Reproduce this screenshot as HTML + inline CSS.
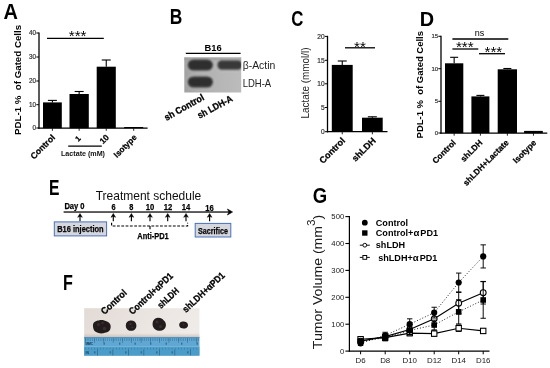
<!DOCTYPE html>
<html><head><meta charset="utf-8"><title>Figure</title>
<style>
html,body{margin:0;padding:0;background:#fff;}
svg{display:block;font-family:'Liberation Sans', 'DejaVu Sans', sans-serif;}
</style></head><body>
<svg width="550" height="368" viewBox="0 0 550 368">
<defs>
<filter id="b1" x="-5%" y="-5%" width="110%" height="110%"><feGaussianBlur stdDeviation="0.5"/></filter>
<filter id="b2" x="-20%" y="-30%" width="140%" height="160%"><feGaussianBlur stdDeviation="1.1"/></filter>
<filter id="b3" x="-30%" y="-30%" width="160%" height="160%"><feGaussianBlur stdDeviation="0.45"/></filter>
<linearGradient id="photobg" x1="0" y1="0" x2="1" y2="0.3"><stop offset="0" stop-color="#e2dad5"/><stop offset="0.6" stop-color="#ebe6e2"/><stop offset="1" stop-color="#efebe8"/></linearGradient>
<linearGradient id="shadow" x1="0" y1="0" x2="0" y2="1"><stop offset="0" stop-color="#c9beb7" stop-opacity="0"/><stop offset="1" stop-color="#bfb3ab" stop-opacity="0.9"/></linearGradient>
<linearGradient id="blotbg" x1="0" y1="0" x2="1" y2="0"><stop offset="0" stop-color="#a2a2a2"/><stop offset="0.5" stop-color="#b4b4b4"/><stop offset="1" stop-color="#bcbcbc"/></linearGradient>
<filter id="b4" x="-30%" y="-50%" width="160%" height="200%"><feGaussianBlur stdDeviation="1.6"/></filter>
<filter id="soft"><feGaussianBlur stdDeviation="0.35"/></filter>
</defs>
<rect width="550" height="368" fill="#fff"/>
<g filter="url(#soft)">
<text transform="translate(3.40 18.90) scale(0.935 1)" font-size="21.37" font-weight="bold">A</text>
<text transform="translate(169.74 24.20) scale(0.819 1)" font-size="21.22" font-weight="bold">B</text>
<text transform="translate(291.31 25.89) scale(0.773 1)" font-size="21.75" font-weight="bold">C</text>
<text transform="translate(419.77 25.50) scale(0.950 1)" font-size="20.93" font-weight="bold">D</text>
<text transform="translate(49.05 195.10) scale(0.739 1)" font-size="21.22" font-weight="bold">E</text>
<text transform="translate(62.92 290.00) scale(0.751 1)" font-size="21.51" font-weight="bold">F</text>
<text transform="translate(312.64 203.49) scale(0.863 1)" font-size="21.47" font-weight="bold">G</text>
<line x1="39.0" y1="32.4" x2="39.0" y2="128.85" stroke="#000" stroke-width="1.3" />
<line x1="38.35" y1="128.2" x2="147.6" y2="128.2" stroke="#000" stroke-width="1.3" />
<line x1="36.3" y1="33" x2="39.0" y2="33" stroke="#000" stroke-width="1" />
<text x="36.1" y="35.268" font-size="6.3" font-weight="normal" text-anchor="end" fill="#333" stroke="#333" stroke-width="0.2">40</text>
<line x1="36.3" y1="57" x2="39.0" y2="57" stroke="#000" stroke-width="1" />
<text x="36.1" y="59.268" font-size="6.3" font-weight="normal" text-anchor="end" fill="#333" stroke="#333" stroke-width="0.2">30</text>
<line x1="36.3" y1="81" x2="39.0" y2="81" stroke="#000" stroke-width="1" />
<text x="36.1" y="83.268" font-size="6.3" font-weight="normal" text-anchor="end" fill="#333" stroke="#333" stroke-width="0.2">20</text>
<line x1="36.3" y1="104.7" x2="39.0" y2="104.7" stroke="#000" stroke-width="1" />
<text x="36.1" y="106.968" font-size="6.3" font-weight="normal" text-anchor="end" fill="#333" stroke="#333" stroke-width="0.2">10</text>
<line x1="36.3" y1="128" x2="39.0" y2="128" stroke="#000" stroke-width="1" />
<text x="36.1" y="130.268" font-size="6.3" font-weight="normal" text-anchor="end" fill="#333" stroke="#333" stroke-width="0.2">0</text>
<rect x="43.0" y="102.4" width="18.799999999999997" height="25.799999999999983" fill="#000" />
<line x1="52.4" y1="128.2" x2="52.4" y2="130.79999999999998" stroke="#000" stroke-width="0.85" />
<line x1="52.4" y1="100.4" x2="52.4" y2="102.4" stroke="#000" stroke-width="1.1" />
<line x1="47.9" y1="100.4" x2="56.9" y2="100.4" stroke="#000" stroke-width="1.1" />
<rect x="69.5" y="94" width="19.299999999999997" height="34.19999999999999" fill="#000" />
<line x1="79.15" y1="128.2" x2="79.15" y2="130.79999999999998" stroke="#000" stroke-width="0.85" />
<line x1="79.15" y1="91.5" x2="79.15" y2="94" stroke="#000" stroke-width="1.1" />
<line x1="74.65" y1="91.5" x2="83.65" y2="91.5" stroke="#000" stroke-width="1.1" />
<rect x="96.7" y="66.7" width="19.099999999999994" height="61.499999999999986" fill="#000" />
<line x1="106.25" y1="128.2" x2="106.25" y2="130.79999999999998" stroke="#000" stroke-width="0.85" />
<line x1="106.25" y1="60" x2="106.25" y2="66.7" stroke="#000" stroke-width="1.1" />
<line x1="101.75" y1="60" x2="110.75" y2="60" stroke="#000" stroke-width="1.1" />
<rect x="124.2" y="127.0" width="18.999999999999986" height="1.1999999999999886" fill="#000" />
<line x1="133.7" y1="128.2" x2="133.7" y2="130.79999999999998" stroke="#000" stroke-width="0.85" />
<text x="21.2" y="134.9" font-size="9.5" font-weight="bold" text-anchor="start" fill="#000" transform="rotate(-90 21.2 134.9)" textLength="110" lengthAdjust="spacingAndGlyphs" >PDL-1 %&#160; of Gated Cells</text>
<line x1="47" y1="38.4" x2="103.8" y2="38.4" stroke="#000" stroke-width="1.3" />
<text x="77.6" y="41.2" font-size="15.2" font-weight="normal" text-anchor="middle" fill="#000" >***</text>
<text x="55.6" y="138.1" font-size="8.6" font-weight="bold" text-anchor="end" fill="#000" transform="rotate(-45 55.6 138.1)" stroke="#000" stroke-width="0.25">Control</text>
<text x="81.3" y="139" font-size="7.6" font-weight="bold" text-anchor="end" fill="#000" transform="rotate(-45 81.3 139)" stroke="#000" stroke-width="0.25">1</text>
<text x="109.5" y="138" font-size="8.4" font-weight="bold" text-anchor="end" fill="#000" transform="rotate(-45 109.5 138)" stroke="#000" stroke-width="0.25">10</text>
<text x="137.3" y="137.9" font-size="8.2" font-weight="bold" text-anchor="end" fill="#000" transform="rotate(-45 137.3 137.9)" stroke="#000" stroke-width="0.25">Isotype</text>
<line x1="68.2" y1="146.2" x2="101.8" y2="146.2" stroke="#000" stroke-width="1.3" />
<text x="83" y="156.4" font-size="7.9" font-weight="bold" text-anchor="middle" fill="#111" textLength="44" lengthAdjust="spacingAndGlyphs" >Lactate (mM)</text>
<rect x="184.3" y="57.4" width="56.9" height="35.1" fill="url(#blotbg)" filter="url(#b1)"/>
<rect x="184.3" y="57.4" width="56.9" height="3" fill="#9a9a9a" opacity="0.5" filter="url(#b1)"/>
<clipPath id="blotclip"><rect x="184.3" y="57.4" width="56.9" height="35.1"/></clipPath>
<g clip-path="url(#blotclip)">
<rect x="186.1" y="58.1" width="28.400000000000006" height="13.999999999999993" rx="6.9999999999999964" fill="#cfcfcf" opacity="0.55" filter="url(#b4)"/>
<rect x="187.6" y="59.6" width="25.400000000000006" height="10.999999999999993" rx="5.4999999999999964" fill="#2e2e2e" filter="url(#b2)"/>
<rect x="215.8" y="58.7" width="28.19999999999999" height="12.599999999999994" rx="6.299999999999997" fill="#cfcfcf" opacity="0.55" filter="url(#b4)"/>
<rect x="217.3" y="60.2" width="25.19999999999999" height="9.599999999999994" rx="4.799999999999997" fill="#383838" filter="url(#b2)"/>
<rect x="186.1" y="74.9" width="28.400000000000006" height="14.199999999999989" rx="7.099999999999994" fill="#cfcfcf" opacity="0.55" filter="url(#b4)"/>
<rect x="187.6" y="76.4" width="25.400000000000006" height="11.199999999999989" rx="5.599999999999994" fill="#2e2e2e" filter="url(#b2)"/>
</g>
<line x1="185.8" y1="53.4" x2="240.6" y2="53.4" stroke="#000" stroke-width="1.1" />
<text x="213.2" y="50.9" font-size="9.4" font-weight="bold" text-anchor="middle" fill="#000" >B16</text>
<text x="242.7" y="69" font-size="10.5" font-weight="normal" text-anchor="start" fill="#222" textLength="32.6" lengthAdjust="spacingAndGlyphs" >β-Actin</text>
<text x="242.7" y="86.5" font-size="10.5" font-weight="normal" text-anchor="start" fill="#222" textLength="28.5" lengthAdjust="spacingAndGlyphs" >LDH-A</text>
<text x="204.8" y="99.3" font-size="9.5" font-weight="bold" text-anchor="end" fill="#000" transform="rotate(-29.5 204.8 99.3)" textLength="44" lengthAdjust="spacingAndGlyphs" stroke="#000" stroke-width="0.3">sh Control</text>
<text x="233.4" y="100.5" font-size="9.5" font-weight="bold" text-anchor="end" fill="#000" transform="rotate(-28.5 233.4 100.5)" textLength="38.5" lengthAdjust="spacingAndGlyphs" stroke="#000" stroke-width="0.3">sh LDH-A</text>
<line x1="327.5" y1="35.8" x2="327.5" y2="132.35" stroke="#000" stroke-width="1.3" />
<line x1="326.85" y1="131.7" x2="387.5" y2="131.7" stroke="#000" stroke-width="1.3" />
<line x1="324.8" y1="36.4" x2="327.5" y2="36.4" stroke="#000" stroke-width="1" />
<text x="324.6" y="38.775999999999996" font-size="6.6" font-weight="normal" text-anchor="end" fill="#333" stroke="#333" stroke-width="0.2">20</text>
<line x1="324.8" y1="60.3" x2="327.5" y2="60.3" stroke="#000" stroke-width="1" />
<text x="324.6" y="62.675999999999995" font-size="6.6" font-weight="normal" text-anchor="end" fill="#333" stroke="#333" stroke-width="0.2">15</text>
<line x1="324.8" y1="83.8" x2="327.5" y2="83.8" stroke="#000" stroke-width="1" />
<text x="324.6" y="86.176" font-size="6.6" font-weight="normal" text-anchor="end" fill="#333" stroke="#333" stroke-width="0.2">10</text>
<line x1="324.8" y1="107.5" x2="327.5" y2="107.5" stroke="#000" stroke-width="1" />
<text x="324.6" y="109.876" font-size="6.6" font-weight="normal" text-anchor="end" fill="#333" stroke="#333" stroke-width="0.2">5</text>
<line x1="324.8" y1="131.7" x2="327.5" y2="131.7" stroke="#000" stroke-width="1" />
<text x="324.6" y="134.076" font-size="6.6" font-weight="normal" text-anchor="end" fill="#333" stroke="#333" stroke-width="0.2">0</text>
<rect x="331.8" y="64.9" width="20.899999999999977" height="66.79999999999998" fill="#000" />
<line x1="342.25" y1="131.7" x2="342.25" y2="134.29999999999998" stroke="#000" stroke-width="0.85" />
<line x1="342.25" y1="61" x2="342.25" y2="64.9" stroke="#000" stroke-width="1.1" />
<line x1="337.75" y1="61" x2="346.75" y2="61" stroke="#000" stroke-width="1.1" />
<rect x="362" y="117.7" width="20.69999999999999" height="13.999999999999986" fill="#000" />
<line x1="372.35" y1="131.7" x2="372.35" y2="134.29999999999998" stroke="#000" stroke-width="0.85" />
<line x1="372.35" y1="116.8" x2="372.35" y2="117.7" stroke="#000" stroke-width="1.1" />
<line x1="367.85" y1="116.8" x2="376.85" y2="116.8" stroke="#000" stroke-width="1.1" />
<text x="308.90000000000003" y="83" font-size="10" font-weight="normal" text-anchor="middle" fill="#222" transform="rotate(-90 308.90000000000003 83)" textLength="71" lengthAdjust="spacingAndGlyphs" >Lactate (mmol/l)</text>
<line x1="345" y1="47.8" x2="375" y2="47.8" stroke="#000" stroke-width="1.3" />
<text x="359.9" y="51.7" font-size="15.2" font-weight="normal" text-anchor="middle" fill="#000" >**</text>
<text x="345.8" y="141.3" font-size="9.1" font-weight="bold" text-anchor="end" fill="#000" transform="rotate(-45 345.8 141.3)" stroke="#000" stroke-width="0.25">Control</text>
<text x="376.3" y="141.3" font-size="9.1" font-weight="bold" text-anchor="end" fill="#000" transform="rotate(-45 376.3 141.3)" stroke="#000" stroke-width="0.25">shLDH</text>
<line x1="441" y1="35.699999999999996" x2="441" y2="133.75" stroke="#000" stroke-width="1.3" />
<line x1="440.35" y1="133.1" x2="547.3" y2="133.1" stroke="#000" stroke-width="1.3" />
<line x1="438.3" y1="36.3" x2="441" y2="36.3" stroke="#000" stroke-width="1" />
<text x="438.1" y="38.459999999999994" font-size="6.0" font-weight="normal" text-anchor="end" fill="#333" stroke="#333" stroke-width="0.2">15</text>
<line x1="438.3" y1="68.7" x2="441" y2="68.7" stroke="#000" stroke-width="1" />
<text x="438.1" y="70.86" font-size="6.0" font-weight="normal" text-anchor="end" fill="#333" stroke="#333" stroke-width="0.2">10</text>
<line x1="438.3" y1="101.3" x2="441" y2="101.3" stroke="#000" stroke-width="1" />
<text x="438.1" y="103.46" font-size="6.0" font-weight="normal" text-anchor="end" fill="#333" stroke="#333" stroke-width="0.2">5</text>
<line x1="438.3" y1="133" x2="441" y2="133" stroke="#000" stroke-width="1" />
<text x="438.1" y="135.16" font-size="6.0" font-weight="normal" text-anchor="end" fill="#333" stroke="#333" stroke-width="0.2">0</text>
<rect x="445" y="63.3" width="18.30000000000001" height="69.8" fill="#000" />
<line x1="454.15" y1="133.1" x2="454.15" y2="135.7" stroke="#000" stroke-width="0.85" />
<line x1="454.15" y1="57.3" x2="454.15" y2="63.3" stroke="#000" stroke-width="1.1" />
<line x1="450.15" y1="57.3" x2="458.15" y2="57.3" stroke="#000" stroke-width="1.1" />
<rect x="471.4" y="96.4" width="18.0" height="36.69999999999999" fill="#000" />
<line x1="480.4" y1="133.1" x2="480.4" y2="135.7" stroke="#000" stroke-width="0.85" />
<line x1="480.4" y1="95.4" x2="480.4" y2="96.4" stroke="#000" stroke-width="1.1" />
<line x1="476.4" y1="95.4" x2="484.4" y2="95.4" stroke="#000" stroke-width="1.1" />
<rect x="497.7" y="69.3" width="19.30000000000001" height="63.8" fill="#000" />
<line x1="507.35" y1="133.1" x2="507.35" y2="135.7" stroke="#000" stroke-width="0.85" />
<line x1="507.35" y1="68.5" x2="507.35" y2="69.3" stroke="#000" stroke-width="1.1" />
<line x1="503.35" y1="68.5" x2="511.35" y2="68.5" stroke="#000" stroke-width="1.1" />
<rect x="524.1" y="130.9" width="18.699999999999932" height="2.1999999999999886" fill="#000" />
<line x1="533.45" y1="133.1" x2="533.45" y2="135.7" stroke="#000" stroke-width="0.85" />
<text x="422.9" y="138.4" font-size="9.3" font-weight="bold" text-anchor="start" fill="#000" transform="rotate(-90 422.9 138.4)" textLength="107.4" lengthAdjust="spacingAndGlyphs" >PDL-1 %&#160; of Gated Cells</text>
<line x1="452.4" y1="39" x2="508.3" y2="39" stroke="#000" stroke-width="1.3" />
<text x="479.6" y="36" font-size="9" font-weight="normal" text-anchor="middle" fill="#000" >ns</text>
<line x1="452.4" y1="49" x2="478.3" y2="49" stroke="#000" stroke-width="1.3" />
<text x="464.8" y="52.2" font-size="15.2" font-weight="normal" text-anchor="middle" fill="#000" >***</text>
<line x1="479" y1="53.7" x2="505" y2="53.7" stroke="#000" stroke-width="1.3" />
<text x="493.4" y="57.2" font-size="15.2" font-weight="normal" text-anchor="middle" fill="#000" >***</text>
<text x="456.5" y="143.3" font-size="8.3" font-weight="bold" text-anchor="end" fill="#000" transform="rotate(-45 456.5 143.3)" stroke="#000" stroke-width="0.25">Control</text>
<text x="483" y="143.3" font-size="8.3" font-weight="bold" text-anchor="end" fill="#000" transform="rotate(-45 483 143.3)" stroke="#000" stroke-width="0.25">shLDH</text>
<text x="509.3" y="143.3" font-size="8.3" font-weight="bold" text-anchor="end" fill="#000" transform="rotate(-45 509.3 143.3)" stroke="#000" stroke-width="0.25">shLDH+Lactate</text>
<text x="536.8" y="143.3" font-size="8.3" font-weight="bold" text-anchor="end" fill="#000" transform="rotate(-45 536.8 143.3)" stroke="#000" stroke-width="0.25">Isotype</text>
<text x="95.7" y="199.5" font-size="13" font-weight="normal" text-anchor="start" fill="#111" textLength="105.6" lengthAdjust="spacingAndGlyphs" >Treatment schedule</text>
<rect x="63.6" y="211.4" width="166" height="1.25" fill="#000" />
<path d="M232.6 212 L227.4 209 L229 212 L227.4 215 Z" fill="#000" stroke="#000" stroke-width="0.6" stroke-linejoin="round"/>
<text x="64.4" y="209.3" font-size="9" font-weight="bold" text-anchor="start" fill="#000" textLength="20.2" lengthAdjust="spacingAndGlyphs" stroke="#000" stroke-width="0.25">Day 0</text>
<text x="113.6" y="210" font-size="9.3" font-weight="bold" text-anchor="middle" fill="#000" textLength="4.1" lengthAdjust="spacingAndGlyphs" stroke="#000" stroke-width="0.25">6</text>
<text x="131.4" y="210" font-size="9.3" font-weight="bold" text-anchor="middle" fill="#000" textLength="4.1" lengthAdjust="spacingAndGlyphs" stroke="#000" stroke-width="0.25">8</text>
<text x="150" y="210" font-size="9.3" font-weight="bold" text-anchor="middle" fill="#000" textLength="8.5" lengthAdjust="spacingAndGlyphs" stroke="#000" stroke-width="0.25">10</text>
<text x="168" y="210" font-size="9.3" font-weight="bold" text-anchor="middle" fill="#000" textLength="8.5" lengthAdjust="spacingAndGlyphs" stroke="#000" stroke-width="0.25">12</text>
<text x="186" y="210" font-size="9.3" font-weight="bold" text-anchor="middle" fill="#000" textLength="8.5" lengthAdjust="spacingAndGlyphs" stroke="#000" stroke-width="0.25">14</text>
<text x="209.6" y="211.0" font-size="9.3" font-weight="bold" text-anchor="middle" fill="#000" textLength="8.5" lengthAdjust="spacingAndGlyphs" stroke="#000" stroke-width="0.25">16</text>
<line x1="80" y1="215" x2="80" y2="221.2" stroke="#000" stroke-width="1.15" />
<path d="M77.7 217.3 L80 213.5 L82.3 217.3 L80 216.3 Z" fill="#000" stroke="#000" stroke-width="0.5" stroke-linejoin="round"/>
<line x1="113.3" y1="215" x2="113.3" y2="221.2" stroke="#000" stroke-width="1.15" />
<path d="M111.0 217.3 L113.3 213.5 L115.6 217.3 L113.3 216.3 Z" fill="#000" stroke="#000" stroke-width="0.5" stroke-linejoin="round"/>
<line x1="131.4" y1="215" x2="131.4" y2="221.2" stroke="#000" stroke-width="1.15" />
<path d="M129.1 217.3 L131.4 213.5 L133.70000000000002 217.3 L131.4 216.3 Z" fill="#000" stroke="#000" stroke-width="0.5" stroke-linejoin="round"/>
<line x1="150" y1="215" x2="150" y2="221.2" stroke="#000" stroke-width="1.15" />
<path d="M147.7 217.3 L150 213.5 L152.3 217.3 L150 216.3 Z" fill="#000" stroke="#000" stroke-width="0.5" stroke-linejoin="round"/>
<line x1="167.7" y1="215" x2="167.7" y2="221.2" stroke="#000" stroke-width="1.15" />
<path d="M165.39999999999998 217.3 L167.7 213.5 L170.0 217.3 L167.7 216.3 Z" fill="#000" stroke="#000" stroke-width="0.5" stroke-linejoin="round"/>
<line x1="186" y1="215" x2="186" y2="221.2" stroke="#000" stroke-width="1.15" />
<path d="M183.7 217.3 L186 213.5 L188.3 217.3 L186 216.3 Z" fill="#000" stroke="#000" stroke-width="0.5" stroke-linejoin="round"/>
<line x1="209.6" y1="215" x2="209.6" y2="221.2" stroke="#000" stroke-width="1.15" />
<path d="M207.29999999999998 217.3 L209.6 213.5 L211.9 217.3 L209.6 216.3 Z" fill="#000" stroke="#000" stroke-width="0.5" stroke-linejoin="round"/>
<rect x="54.3" y="221.9" width="52.3" height="14" fill="#d5d7de" stroke="#4a70b8" stroke-width="1"/>
<text x="80.4" y="232.3" font-size="9.2" font-weight="bold" text-anchor="middle" fill="#0c0c0c" textLength="46.3" lengthAdjust="spacingAndGlyphs" stroke="#000" stroke-width="0.25">B16 injection</text>
<rect x="195.2" y="223.4" width="35.6" height="13.6" fill="#d5d7de" stroke="#4a70b8" stroke-width="1"/>
<text x="213" y="233.6" font-size="9.2" font-weight="bold" text-anchor="middle" fill="#0c0c0c" textLength="30" lengthAdjust="spacingAndGlyphs" stroke="#000" stroke-width="0.25">Sacrifice</text>
<path d="M111.6 222.8 V226 H187.6 V222.8" fill="none" stroke="#000" stroke-width="1.15" stroke-dasharray="2.8 1.5"/>
<line x1="150" y1="226" x2="150" y2="229.2" stroke="#000" stroke-width="1.15" />
<text x="153" y="239.2" font-size="8.8" font-weight="bold" text-anchor="middle" fill="#000" textLength="31.5" lengthAdjust="spacingAndGlyphs" stroke="#000" stroke-width="0.25">Anti-PD1</text>
<rect x="84.2" y="308.2" width="115.2" height="47.4" fill="url(#photobg)"/>
<rect x="84.2" y="333" width="115.2" height="5" fill="url(#shadow)"/>
<rect x="84.2" y="337.2" width="115.2" height="18.4" fill="#60a8d3" />
<rect x="84.2" y="337.2" width="115.2" height="1.0" fill="#4a8fbb" />
<rect x="84.2" y="346.3" width="115.2" height="0.9" fill="#79bbdf" />
<rect x="84.2" y="347.2" width="115.2" height="8.4" fill="#4c9cc9" />
<line x1="85" y1="339.6" x2="199" y2="339.6" stroke="#23587c" stroke-width="2.6" stroke-dasharray="0.45 1.41" opacity="0.75"/>
<line x1="85" y1="340.6" x2="199" y2="340.6" stroke="#23587c" stroke-width="4.6" stroke-dasharray="0.5 8.8" opacity="0.8"/>
<line x1="85" y1="348.6" x2="199" y2="348.6" stroke="#23587c" stroke-width="2.4" stroke-dasharray="0.45 2.65" opacity="0.6"/>
<line x1="97" y1="352.6" x2="199" y2="352.6" stroke="#1d4d70" stroke-width="6" stroke-dasharray="0.7 14.8" opacity="0.7"/>
<line x1="94" y1="352.4" x2="199" y2="352.4" stroke="#1d4d70" stroke-width="2.4" stroke-dasharray="1.6 13.9" opacity="0.55"/>
<line x1="88" y1="343.6" x2="199" y2="343.6" stroke="#1d4d70" stroke-width="2.2" stroke-dasharray="1.4 14.1" opacity="0.6"/>
<text x="85.5" y="345.3" font-size="3.2" font-weight="bold" text-anchor="start" fill="#163c58" >MMC</text>
<text x="85.5" y="354" font-size="3.4" font-weight="bold" text-anchor="start" fill="#163c58" >IN</text>
<path d="M93 326 C92.6 322.6 95.5 320.4 98.8 320.4 C101.5 319.6 104.6 320.2 107 321.6 C109.8 322.6 111.2 325 110.6 327.8 C110.4 330.6 108 332.4 105 332.8 C102 333.8 98.6 333.6 96 332 C93.8 330.8 93 328.6 93 326 Z" fill="#221a1c" filter="url(#b3)"/>
<path d="M125.8 325.4 C125.8 322.8 127.6 320.8 130.4 320.6 C133.2 320.2 135.8 321.8 136.3 324.4 C136.8 327 135.8 329.4 133.4 330.4 C130.8 331.4 127.8 330.8 126.6 328.6 C126 327.6 125.8 326.6 125.8 325.4 Z" fill="#221a1c" filter="url(#b3)"/>
<path d="M152.6 323.4 C152.8 320.4 155 318 158 317.8 C160.4 317.6 162.4 318.8 163.8 320.4 C165.8 322 166.4 324.6 165.6 327 C164.8 329.6 162.2 331 159.4 330.8 C156.4 330.8 153.8 329.2 153 326.6 C152.6 325.6 152.5 324.5 152.6 323.4 Z" fill="#221a1c" filter="url(#b3)"/>
<path d="M179.2 324.6 C179.4 322.8 181 321.6 183 321.6 C185.2 321.4 187.4 322.4 187.9 324.4 C188.4 326.4 187 328 185 328.4 C182.8 328.9 180.4 328.4 179.6 326.6 C179.3 326 179.1 325.3 179.2 324.6 Z" fill="#221a1c" filter="url(#b3)"/>
<circle cx="98.5" cy="324.5" r="1.6" fill="#54454b" opacity="0.45" filter="url(#b1)"/>
<circle cx="104.5" cy="328.5" r="1.7" fill="#54454b" opacity="0.45" filter="url(#b1)"/>
<circle cx="102.5" cy="323" r="1.2" fill="#54454b" opacity="0.45" filter="url(#b1)"/>
<circle cx="130.5" cy="324" r="1.3" fill="#54454b" opacity="0.45" filter="url(#b1)"/>
<circle cx="132.5" cy="327.5" r="1.1" fill="#54454b" opacity="0.45" filter="url(#b1)"/>
<circle cx="157" cy="322" r="1.5" fill="#54454b" opacity="0.45" filter="url(#b1)"/>
<circle cx="160.5" cy="326.5" r="1.5" fill="#54454b" opacity="0.45" filter="url(#b1)"/>
<circle cx="183.5" cy="324.5" r="1.0" fill="#54454b" opacity="0.45" filter="url(#b1)"/>
<text x="104.6" y="315" font-size="9.5" font-weight="bold" text-anchor="start" fill="#000" transform="rotate(-43 104.6 315)" textLength="31.5" lengthAdjust="spacingAndGlyphs" stroke="#000" stroke-width="0.3">Control</text>
<text x="132.6" y="315" font-size="9.5" font-weight="bold" text-anchor="start" fill="#000" transform="rotate(-43 132.6 315)" textLength="56" lengthAdjust="spacingAndGlyphs" stroke="#000" stroke-width="0.3">Control+αPD1</text>
<text x="161" y="309" font-size="9.5" font-weight="bold" text-anchor="start" fill="#000" transform="rotate(-43 161 309)" textLength="25.5" lengthAdjust="spacingAndGlyphs" stroke="#000" stroke-width="0.3">shLDH</text>
<text x="186" y="313" font-size="9.5" font-weight="bold" text-anchor="start" fill="#000" transform="rotate(-43 186 313)" textLength="54" lengthAdjust="spacingAndGlyphs" stroke="#000" stroke-width="0.3">shLDH+αPD1</text>
<line x1="349.4" y1="216.0" x2="349.4" y2="351.70000000000005" stroke="#000" stroke-width="1.2" />
<line x1="348.79999999999995" y1="351.1" x2="489.5" y2="351.1" stroke="#000" stroke-width="1.2" />
<line x1="345.4" y1="351.1" x2="349.4" y2="351.1" stroke="#000" stroke-width="1.1" />
<text x="344.2" y="353.8" font-size="7.7" font-weight="normal" text-anchor="end" fill="#1a1a1a" >0</text>
<line x1="345.4" y1="324.20000000000005" x2="349.4" y2="324.20000000000005" stroke="#000" stroke-width="1.1" />
<text x="344.2" y="326.90000000000003" font-size="7.7" font-weight="normal" text-anchor="end" fill="#1a1a1a" >100</text>
<line x1="345.4" y1="297.3" x2="349.4" y2="297.3" stroke="#000" stroke-width="1.1" />
<text x="344.2" y="300.0" font-size="7.7" font-weight="normal" text-anchor="end" fill="#1a1a1a" >200</text>
<line x1="345.4" y1="270.40000000000003" x2="349.4" y2="270.40000000000003" stroke="#000" stroke-width="1.1" />
<text x="344.2" y="273.1" font-size="7.7" font-weight="normal" text-anchor="end" fill="#1a1a1a" >300</text>
<line x1="345.4" y1="243.5" x2="349.4" y2="243.5" stroke="#000" stroke-width="1.1" />
<text x="344.2" y="246.2" font-size="7.7" font-weight="normal" text-anchor="end" fill="#1a1a1a" >400</text>
<line x1="345.4" y1="216.60000000000002" x2="349.4" y2="216.60000000000002" stroke="#000" stroke-width="1.1" />
<text x="344.2" y="219.3" font-size="7.7" font-weight="normal" text-anchor="end" fill="#1a1a1a" >500</text>
<line x1="360.6" y1="351.1" x2="360.6" y2="354.3" stroke="#000" stroke-width="1" />
<text x="360.6" y="362.5" font-size="7.9" font-weight="normal" text-anchor="middle" fill="#1a1a1a" >D6</text>
<line x1="385.2" y1="351.1" x2="385.2" y2="354.3" stroke="#000" stroke-width="1" />
<text x="385.2" y="362.5" font-size="7.9" font-weight="normal" text-anchor="middle" fill="#1a1a1a" >D8</text>
<line x1="409.7" y1="351.1" x2="409.7" y2="354.3" stroke="#000" stroke-width="1" />
<text x="409.7" y="362.5" font-size="7.9" font-weight="normal" text-anchor="middle" fill="#1a1a1a" >D10</text>
<line x1="434.2" y1="351.1" x2="434.2" y2="354.3" stroke="#000" stroke-width="1" />
<text x="434.2" y="362.5" font-size="7.9" font-weight="normal" text-anchor="middle" fill="#1a1a1a" >D12</text>
<line x1="458.7" y1="351.1" x2="458.7" y2="354.3" stroke="#000" stroke-width="1" />
<text x="458.7" y="362.5" font-size="7.9" font-weight="normal" text-anchor="middle" fill="#1a1a1a" >D14</text>
<line x1="483.2" y1="351.1" x2="483.2" y2="354.3" stroke="#000" stroke-width="1" />
<text x="483.2" y="362.5" font-size="7.9" font-weight="normal" text-anchor="middle" fill="#1a1a1a" >D16</text>
<text x="321.6" y="349.2" font-size="13.6" font-weight="normal" text-anchor="start" fill="#1a1a1a" transform="rotate(-90 321.6 349.2)" textLength="134.5" lengthAdjust="spacingAndGlyphs" >Tumor Volume (mm<tspan dy="-6.2" font-size="11.2">3</tspan><tspan dy="6.2">)</tspan></text>
<polyline points="360.6,339.26 385.2,337.65 409.7,333.08 434.2,333.62 458.7,328.24 483.2,330.93" fill="none" stroke="#000" stroke-width="1.15" />
<line x1="360.6" y1="337.65" x2="360.6" y2="340.88" stroke="#000" stroke-width="0.95" />
<line x1="357.90000000000003" y1="337.65" x2="363.3" y2="337.65" stroke="#000" stroke-width="0.95" />
<line x1="357.90000000000003" y1="340.88" x2="363.3" y2="340.88" stroke="#000" stroke-width="0.95" />
<line x1="385.2" y1="335.5" x2="385.2" y2="339.8" stroke="#000" stroke-width="0.95" />
<line x1="382.5" y1="335.5" x2="387.9" y2="335.5" stroke="#000" stroke-width="0.95" />
<line x1="382.5" y1="339.8" x2="387.9" y2="339.8" stroke="#000" stroke-width="0.95" />
<line x1="409.7" y1="330.39" x2="409.7" y2="335.77" stroke="#000" stroke-width="0.95" />
<line x1="407.0" y1="330.39" x2="412.4" y2="330.39" stroke="#000" stroke-width="0.95" />
<line x1="407.0" y1="335.77" x2="412.4" y2="335.77" stroke="#000" stroke-width="0.95" />
<line x1="434.2" y1="330.93" x2="434.2" y2="336.31" stroke="#000" stroke-width="0.95" />
<line x1="431.5" y1="330.93" x2="436.9" y2="330.93" stroke="#000" stroke-width="0.95" />
<line x1="431.5" y1="336.31" x2="436.9" y2="336.31" stroke="#000" stroke-width="0.95" />
<line x1="458.7" y1="325.01" x2="458.7" y2="331.46" stroke="#000" stroke-width="0.95" />
<line x1="456.0" y1="325.01" x2="461.4" y2="325.01" stroke="#000" stroke-width="0.95" />
<line x1="456.0" y1="331.46" x2="461.4" y2="331.46" stroke="#000" stroke-width="0.95" />
<line x1="483.2" y1="328.77" x2="483.2" y2="333.08" stroke="#000" stroke-width="0.95" />
<line x1="480.5" y1="328.77" x2="485.9" y2="328.77" stroke="#000" stroke-width="0.95" />
<line x1="480.5" y1="333.08" x2="485.9" y2="333.08" stroke="#000" stroke-width="0.95" />
<rect x="357.90000000000003" y="336.56" width="5.4" height="5.4" fill="#fff" stroke="#000" stroke-width="1.05"/>
<rect x="382.5" y="334.95" width="5.4" height="5.4" fill="#fff" stroke="#000" stroke-width="1.05"/>
<rect x="407.0" y="330.38" width="5.4" height="5.4" fill="#fff" stroke="#000" stroke-width="1.05"/>
<rect x="431.5" y="330.92" width="5.4" height="5.4" fill="#fff" stroke="#000" stroke-width="1.05"/>
<rect x="456.0" y="325.54" width="5.4" height="5.4" fill="#fff" stroke="#000" stroke-width="1.05"/>
<rect x="480.5" y="328.23" width="5.4" height="5.4" fill="#fff" stroke="#000" stroke-width="1.05"/>
<polyline points="360.6,341.15 385.2,336.57 409.7,329.58 434.2,318.82 458.7,303.22 483.2,292.73" fill="none" stroke="#000" stroke-width="1.15" />
<line x1="360.6" y1="339.0" x2="360.6" y2="343.3" stroke="#000" stroke-width="0.95" />
<line x1="357.90000000000003" y1="339.0" x2="363.3" y2="339.0" stroke="#000" stroke-width="0.95" />
<line x1="357.90000000000003" y1="343.3" x2="363.3" y2="343.3" stroke="#000" stroke-width="0.95" />
<line x1="385.2" y1="333.35" x2="385.2" y2="339.8" stroke="#000" stroke-width="0.95" />
<line x1="382.5" y1="333.35" x2="387.9" y2="333.35" stroke="#000" stroke-width="0.95" />
<line x1="382.5" y1="339.8" x2="387.9" y2="339.8" stroke="#000" stroke-width="0.95" />
<line x1="409.7" y1="324.74" x2="409.7" y2="334.42" stroke="#000" stroke-width="0.95" />
<line x1="407.0" y1="324.74" x2="412.4" y2="324.74" stroke="#000" stroke-width="0.95" />
<line x1="407.0" y1="334.42" x2="412.4" y2="334.42" stroke="#000" stroke-width="0.95" />
<line x1="434.2" y1="313.44" x2="434.2" y2="324.2" stroke="#000" stroke-width="0.95" />
<line x1="431.5" y1="313.44" x2="436.9" y2="313.44" stroke="#000" stroke-width="0.95" />
<line x1="431.5" y1="324.2" x2="436.9" y2="324.2" stroke="#000" stroke-width="0.95" />
<line x1="458.7" y1="292.46" x2="458.7" y2="313.98" stroke="#000" stroke-width="0.95" />
<line x1="456.0" y1="292.46" x2="461.4" y2="292.46" stroke="#000" stroke-width="0.95" />
<line x1="456.0" y1="313.98" x2="461.4" y2="313.98" stroke="#000" stroke-width="0.95" />
<line x1="483.2" y1="281.43" x2="483.2" y2="304.03" stroke="#000" stroke-width="0.95" />
<line x1="480.5" y1="281.43" x2="485.9" y2="281.43" stroke="#000" stroke-width="0.95" />
<line x1="480.5" y1="304.03" x2="485.9" y2="304.03" stroke="#000" stroke-width="0.95" />
<circle cx="360.6" cy="341.15" r="2.9" fill="#fff" stroke="#000" stroke-width="1.05"/>
<circle cx="385.2" cy="336.57" r="2.9" fill="#fff" stroke="#000" stroke-width="1.05"/>
<circle cx="409.7" cy="329.58" r="2.9" fill="#fff" stroke="#000" stroke-width="1.05"/>
<circle cx="434.2" cy="318.82" r="2.9" fill="#fff" stroke="#000" stroke-width="1.05"/>
<circle cx="458.7" cy="303.22" r="2.9" fill="#fff" stroke="#000" stroke-width="1.05"/>
<circle cx="483.2" cy="292.73" r="2.9" fill="#fff" stroke="#000" stroke-width="1.05"/>
<polyline points="360.6,341.42 385.2,337.65 409.7,330.39 434.2,325.01 458.7,311.83 483.2,299.99" fill="none" stroke="#000" stroke-width="0.85" stroke-dasharray="1 1.9"/>
<line x1="360.6" y1="339.26" x2="360.6" y2="343.57" stroke="#000" stroke-width="0.95" />
<line x1="357.90000000000003" y1="339.26" x2="363.3" y2="339.26" stroke="#000" stroke-width="0.95" />
<line x1="357.90000000000003" y1="343.57" x2="363.3" y2="343.57" stroke="#000" stroke-width="0.95" />
<line x1="385.2" y1="334.42" x2="385.2" y2="340.88" stroke="#000" stroke-width="0.95" />
<line x1="382.5" y1="334.42" x2="387.9" y2="334.42" stroke="#000" stroke-width="0.95" />
<line x1="382.5" y1="340.88" x2="387.9" y2="340.88" stroke="#000" stroke-width="0.95" />
<line x1="409.7" y1="326.35" x2="409.7" y2="334.42" stroke="#000" stroke-width="0.95" />
<line x1="407.0" y1="326.35" x2="412.4" y2="326.35" stroke="#000" stroke-width="0.95" />
<line x1="407.0" y1="334.42" x2="412.4" y2="334.42" stroke="#000" stroke-width="0.95" />
<line x1="434.2" y1="320.17" x2="434.2" y2="329.85" stroke="#000" stroke-width="0.95" />
<line x1="431.5" y1="320.17" x2="436.9" y2="320.17" stroke="#000" stroke-width="0.95" />
<line x1="431.5" y1="329.85" x2="436.9" y2="329.85" stroke="#000" stroke-width="0.95" />
<line x1="458.7" y1="299.72" x2="458.7" y2="323.93" stroke="#000" stroke-width="0.95" />
<line x1="456.0" y1="299.72" x2="461.4" y2="299.72" stroke="#000" stroke-width="0.95" />
<line x1="456.0" y1="323.93" x2="461.4" y2="323.93" stroke="#000" stroke-width="0.95" />
<line x1="483.2" y1="281.7" x2="483.2" y2="318.28" stroke="#000" stroke-width="0.95" />
<line x1="480.5" y1="281.7" x2="485.9" y2="281.7" stroke="#000" stroke-width="0.95" />
<line x1="480.5" y1="318.28" x2="485.9" y2="318.28" stroke="#000" stroke-width="0.95" />
<rect x="357.8" y="338.62" width="5.6" height="5.6" fill="#000" />
<rect x="382.4" y="334.84999999999997" width="5.6" height="5.6" fill="#000" />
<rect x="406.9" y="327.59" width="5.6" height="5.6" fill="#000" />
<rect x="431.4" y="322.21" width="5.6" height="5.6" fill="#000" />
<rect x="455.9" y="309.03" width="5.6" height="5.6" fill="#000" />
<rect x="480.4" y="297.19" width="5.6" height="5.6" fill="#000" />
<polyline points="360.6,343.3 385.2,335.5 409.7,324.2 434.2,312.63 458.7,282.5 483.2,256.41" fill="none" stroke="#000" stroke-width="0.85" stroke-dasharray="1 1.9"/>
<line x1="360.6" y1="341.15" x2="360.6" y2="345.45" stroke="#000" stroke-width="0.95" />
<line x1="357.90000000000003" y1="341.15" x2="363.3" y2="341.15" stroke="#000" stroke-width="0.95" />
<line x1="357.90000000000003" y1="345.45" x2="363.3" y2="345.45" stroke="#000" stroke-width="0.95" />
<line x1="385.2" y1="332.27" x2="385.2" y2="338.73" stroke="#000" stroke-width="0.95" />
<line x1="382.5" y1="332.27" x2="387.9" y2="332.27" stroke="#000" stroke-width="0.95" />
<line x1="382.5" y1="338.73" x2="387.9" y2="338.73" stroke="#000" stroke-width="0.95" />
<line x1="409.7" y1="318.82" x2="409.7" y2="329.58" stroke="#000" stroke-width="0.95" />
<line x1="407.0" y1="318.82" x2="412.4" y2="318.82" stroke="#000" stroke-width="0.95" />
<line x1="407.0" y1="329.58" x2="412.4" y2="329.58" stroke="#000" stroke-width="0.95" />
<line x1="434.2" y1="307.25" x2="434.2" y2="318.01" stroke="#000" stroke-width="0.95" />
<line x1="431.5" y1="307.25" x2="436.9" y2="307.25" stroke="#000" stroke-width="0.95" />
<line x1="431.5" y1="318.01" x2="436.9" y2="318.01" stroke="#000" stroke-width="0.95" />
<line x1="458.7" y1="273.09" x2="458.7" y2="291.92" stroke="#000" stroke-width="0.95" />
<line x1="456.0" y1="273.09" x2="461.4" y2="273.09" stroke="#000" stroke-width="0.95" />
<line x1="456.0" y1="291.92" x2="461.4" y2="291.92" stroke="#000" stroke-width="0.95" />
<line x1="483.2" y1="244.85" x2="483.2" y2="267.98" stroke="#000" stroke-width="0.95" />
<line x1="480.5" y1="244.85" x2="485.9" y2="244.85" stroke="#000" stroke-width="0.95" />
<line x1="480.5" y1="267.98" x2="485.9" y2="267.98" stroke="#000" stroke-width="0.95" />
<circle cx="360.6" cy="343.3" r="3.1" fill="#000"/>
<circle cx="385.2" cy="335.5" r="3.1" fill="#000"/>
<circle cx="409.7" cy="324.2" r="3.1" fill="#000"/>
<circle cx="434.2" cy="312.63" r="3.1" fill="#000"/>
<circle cx="458.7" cy="282.5" r="3.1" fill="#000"/>
<circle cx="483.2" cy="256.41" r="3.1" fill="#000"/>
<circle cx="364.8" cy="222.7" r="2.9" fill="#000"/>
<rect x="362.1" y="230.3" width="5.4" height="5.4" fill="#000" />
<line x1="359.8" y1="245.2" x2="369.8" y2="245.2" stroke="#000" stroke-width="0.95" />
<circle cx="364.8" cy="245.2" r="1.9" fill="#fff" stroke="#000" stroke-width="0.95"/>
<line x1="359.8" y1="257.4" x2="369.8" y2="257.4" stroke="#000" stroke-width="0.95" />
<rect x="362.90000000000003" y="255.49999999999997" width="3.8" height="3.8" fill="#fff" stroke="#000" stroke-width="0.95"/>
<text x="375.8" y="225.9" font-size="9.1" font-weight="bold" text-anchor="start" fill="#000" >Control</text>
<text x="375.8" y="236.2" font-size="9.1" font-weight="bold" text-anchor="start" fill="#000" >Control+<tspan font-size="9.6">α</tspan><tspan dx="1">PD1</tspan></text>
<text x="375.8" y="248.4" font-size="9.1" font-weight="bold" text-anchor="start" fill="#000" >shLDH</text>
<text x="378.2" y="260.6" font-size="9.1" font-weight="bold" text-anchor="start" fill="#000" >shLDH+<tspan font-size="9.6">α</tspan><tspan dx="1">PD1</tspan></text>
</g>
</svg>
</body></html>
